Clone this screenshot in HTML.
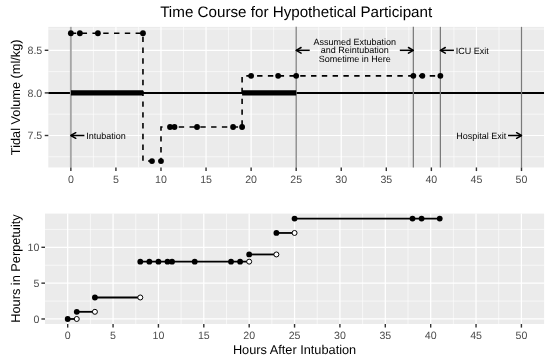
<!DOCTYPE html>
<html><head><meta charset="utf-8"><title>Time Course for Hypothetical Participant</title>
<style>html,body{margin:0;padding:0;background:#fff;width:550px;height:359px;overflow:hidden}svg{display:block}</style>
</head><body>
<svg width="550" height="359" viewBox="0 0 550 359" font-family="'Liberation Sans', Arial, Helvetica, sans-serif" text-rendering="geometricPrecision">
<rect x="0" y="0" width="550" height="359" fill="#FFFFFF"/>
<text x="296.18" y="16.6" font-size="15.2" text-anchor="middle" fill="#000">Time Course for Hypothetical Participant</text>
<rect x="48.33" y="26.87" width="495.70" height="140.58" fill="#EBEBEB"/>
<g stroke="#FFFFFF" stroke-width="0.62">
<line x1="93.39" y1="26.87" x2="93.39" y2="167.45"/>
<line x1="138.46" y1="26.87" x2="138.46" y2="167.45"/>
<line x1="183.52" y1="26.87" x2="183.52" y2="167.45"/>
<line x1="228.58" y1="26.87" x2="228.58" y2="167.45"/>
<line x1="273.65" y1="26.87" x2="273.65" y2="167.45"/>
<line x1="318.71" y1="26.87" x2="318.71" y2="167.45"/>
<line x1="363.78" y1="26.87" x2="363.78" y2="167.45"/>
<line x1="408.84" y1="26.87" x2="408.84" y2="167.45"/>
<line x1="453.90" y1="26.87" x2="453.90" y2="167.45"/>
<line x1="498.97" y1="26.87" x2="498.97" y2="167.45"/>
<line x1="48.33" y1="156.80" x2="544.03" y2="156.80"/>
<line x1="48.33" y1="114.20" x2="544.03" y2="114.20"/>
<line x1="48.33" y1="71.60" x2="544.03" y2="71.60"/>
<line x1="48.33" y1="29.00" x2="544.03" y2="29.00"/>
</g>
<g stroke="#FFFFFF" stroke-width="1.24">
<line x1="70.86" y1="26.87" x2="70.86" y2="167.45"/>
<line x1="115.93" y1="26.87" x2="115.93" y2="167.45"/>
<line x1="160.99" y1="26.87" x2="160.99" y2="167.45"/>
<line x1="206.05" y1="26.87" x2="206.05" y2="167.45"/>
<line x1="251.12" y1="26.87" x2="251.12" y2="167.45"/>
<line x1="296.18" y1="26.87" x2="296.18" y2="167.45"/>
<line x1="341.24" y1="26.87" x2="341.24" y2="167.45"/>
<line x1="386.31" y1="26.87" x2="386.31" y2="167.45"/>
<line x1="431.37" y1="26.87" x2="431.37" y2="167.45"/>
<line x1="476.43" y1="26.87" x2="476.43" y2="167.45"/>
<line x1="521.50" y1="26.87" x2="521.50" y2="167.45"/>
<line x1="48.33" y1="135.50" x2="544.03" y2="135.50"/>
<line x1="48.33" y1="92.90" x2="544.03" y2="92.90"/>
<line x1="48.33" y1="50.30" x2="544.03" y2="50.30"/>
</g>
<line x1="48.33" y1="92.90" x2="544.03" y2="92.90" stroke="#000" stroke-width="2.0"/>
<line x1="70.86" y1="26.87" x2="70.86" y2="167.45" stroke="#A6A6A6" stroke-width="1.9"/>
<line x1="296.18" y1="26.87" x2="296.18" y2="167.45" stroke="#7A7A7A" stroke-width="1.25"/>
<line x1="413.35" y1="26.87" x2="413.35" y2="167.45" stroke="#7A7A7A" stroke-width="1.25"/>
<line x1="440.38" y1="26.87" x2="440.38" y2="167.45" stroke="#7A7A7A" stroke-width="1.25"/>
<line x1="521.50" y1="26.87" x2="521.50" y2="167.45" stroke="#7A7A7A" stroke-width="1.25"/>
<line x1="70.86" y1="92.90" x2="142.96" y2="92.90" stroke="#000" stroke-width="5.3"/>
<line x1="242.10" y1="92.90" x2="296.18" y2="92.90" stroke="#000" stroke-width="5.3"/>
<path d="M70.86,33.26 L142.96,33.26 L142.96,161.06 L160.99,161.06 L160.99,126.98 L242.10,126.98 L242.10,75.86 L440.38,75.86" fill="none" stroke="#000" stroke-width="1.6" stroke-dasharray="5.4 5.39"/>
<circle cx="70.86" cy="33.26" r="2.9" fill="#000"/>
<circle cx="79.87" cy="33.26" r="2.9" fill="#000"/>
<circle cx="97.90" cy="33.26" r="2.9" fill="#000"/>
<circle cx="142.96" cy="33.26" r="2.9" fill="#000"/>
<circle cx="151.98" cy="161.06" r="2.9" fill="#000"/>
<circle cx="160.99" cy="161.06" r="2.9" fill="#000"/>
<circle cx="170.00" cy="126.98" r="2.9" fill="#000"/>
<circle cx="174.51" cy="126.98" r="2.9" fill="#000"/>
<circle cx="197.04" cy="126.98" r="2.9" fill="#000"/>
<circle cx="233.09" cy="126.98" r="2.9" fill="#000"/>
<circle cx="242.10" cy="126.98" r="2.9" fill="#000"/>
<circle cx="251.12" cy="75.86" r="2.9" fill="#000"/>
<circle cx="278.15" cy="75.86" r="2.9" fill="#000"/>
<circle cx="296.18" cy="75.86" r="2.9" fill="#000"/>
<circle cx="413.35" cy="75.86" r="2.9" fill="#000"/>
<circle cx="422.36" cy="75.86" r="2.9" fill="#000"/>
<circle cx="440.38" cy="75.86" r="2.9" fill="#000"/>
<line x1="84.38" y1="135.50" x2="70.86" y2="135.50" stroke="#000" stroke-width="1.5"/><polyline points="75.76,132.70 70.86,135.50 75.76,138.30" fill="none" stroke="#000" stroke-width="1.5" stroke-linejoin="round" stroke-linecap="round"/>
<line x1="309.70" y1="50.30" x2="296.18" y2="50.30" stroke="#000" stroke-width="1.5"/><polyline points="301.08,47.50 296.18,50.30 301.08,53.10" fill="none" stroke="#000" stroke-width="1.5" stroke-linejoin="round" stroke-linecap="round"/>
<line x1="399.83" y1="50.30" x2="413.35" y2="50.30" stroke="#000" stroke-width="1.5"/><polyline points="408.45,53.10 413.35,50.30 408.45,47.50" fill="none" stroke="#000" stroke-width="1.5" stroke-linejoin="round" stroke-linecap="round"/>
<line x1="453.90" y1="50.30" x2="440.38" y2="50.30" stroke="#000" stroke-width="1.5"/><polyline points="445.28,47.50 440.38,50.30 445.28,53.10" fill="none" stroke="#000" stroke-width="1.5" stroke-linejoin="round" stroke-linecap="round"/>
<line x1="507.98" y1="135.50" x2="521.50" y2="135.50" stroke="#000" stroke-width="1.5"/><polyline points="516.60,138.30 521.50,135.50 516.60,132.70" fill="none" stroke="#000" stroke-width="1.5" stroke-linejoin="round" stroke-linecap="round"/>
<g font-size="9.0" fill="#000">
<text x="86.18" y="138.70">Intubation</text>
<text x="455.71" y="53.50">ICU Exit</text>
<text x="506.18" y="138.70" text-anchor="end">Hospital Exit</text>
<text x="354.76" y="44.90" text-anchor="middle">Assumed Extubation</text>
<text x="354.76" y="53.25" text-anchor="middle">and Reintubation</text>
<text x="354.76" y="61.60" text-anchor="middle">Sometime in Here</text>
</g>
<g stroke="#333333" stroke-width="1.4">
<line x1="70.86" y1="167.45" x2="70.86" y2="171.05"/>
<line x1="115.93" y1="167.45" x2="115.93" y2="171.05"/>
<line x1="160.99" y1="167.45" x2="160.99" y2="171.05"/>
<line x1="206.05" y1="167.45" x2="206.05" y2="171.05"/>
<line x1="251.12" y1="167.45" x2="251.12" y2="171.05"/>
<line x1="296.18" y1="167.45" x2="296.18" y2="171.05"/>
<line x1="341.24" y1="167.45" x2="341.24" y2="171.05"/>
<line x1="386.31" y1="167.45" x2="386.31" y2="171.05"/>
<line x1="431.37" y1="167.45" x2="431.37" y2="171.05"/>
<line x1="476.43" y1="167.45" x2="476.43" y2="171.05"/>
<line x1="521.50" y1="167.45" x2="521.50" y2="171.05"/>
<line x1="44.73" y1="135.50" x2="48.33" y2="135.50"/>
<line x1="44.73" y1="92.90" x2="48.33" y2="92.90"/>
<line x1="44.73" y1="50.30" x2="48.33" y2="50.30"/>
</g>
<g font-size="10.6" fill="#4D4D4D">
<text x="70.86" y="182.65" text-anchor="middle">0</text>
<text x="115.93" y="182.65" text-anchor="middle">5</text>
<text x="160.99" y="182.65" text-anchor="middle">10</text>
<text x="206.05" y="182.65" text-anchor="middle">15</text>
<text x="251.12" y="182.65" text-anchor="middle">20</text>
<text x="296.18" y="182.65" text-anchor="middle">25</text>
<text x="341.24" y="182.65" text-anchor="middle">30</text>
<text x="386.31" y="182.65" text-anchor="middle">35</text>
<text x="431.37" y="182.65" text-anchor="middle">40</text>
<text x="476.43" y="182.65" text-anchor="middle">45</text>
<text x="521.50" y="182.65" text-anchor="middle">50</text>
<text x="42.23" y="139.30" text-anchor="end">7.5</text>
<text x="42.23" y="96.70" text-anchor="end">8.0</text>
<text x="42.23" y="54.10" text-anchor="end">8.5</text>
</g>
<text transform="translate(19.9,97.30) rotate(-90)" font-size="12.76" text-anchor="middle" fill="#000">Tidal Volume (ml/kg)</text>
<rect x="45.00" y="213.60" width="499.10" height="110.40" fill="#EBEBEB"/>
<g stroke="#FFFFFF" stroke-width="0.62">
<line x1="90.37" y1="213.60" x2="90.37" y2="324.00"/>
<line x1="135.75" y1="213.60" x2="135.75" y2="324.00"/>
<line x1="181.12" y1="213.60" x2="181.12" y2="324.00"/>
<line x1="226.49" y1="213.60" x2="226.49" y2="324.00"/>
<line x1="271.86" y1="213.60" x2="271.86" y2="324.00"/>
<line x1="317.24" y1="213.60" x2="317.24" y2="324.00"/>
<line x1="362.61" y1="213.60" x2="362.61" y2="324.00"/>
<line x1="407.98" y1="213.60" x2="407.98" y2="324.00"/>
<line x1="453.35" y1="213.60" x2="453.35" y2="324.00"/>
<line x1="498.73" y1="213.60" x2="498.73" y2="324.00"/>
<line x1="45.00" y1="301.06" x2="544.10" y2="301.06"/>
<line x1="45.00" y1="265.22" x2="544.10" y2="265.22"/>
<line x1="45.00" y1="229.37" x2="544.10" y2="229.37"/>
</g>
<g stroke="#FFFFFF" stroke-width="1.24">
<line x1="67.69" y1="213.60" x2="67.69" y2="324.00"/>
<line x1="113.06" y1="213.60" x2="113.06" y2="324.00"/>
<line x1="158.43" y1="213.60" x2="158.43" y2="324.00"/>
<line x1="203.80" y1="213.60" x2="203.80" y2="324.00"/>
<line x1="249.18" y1="213.60" x2="249.18" y2="324.00"/>
<line x1="294.55" y1="213.60" x2="294.55" y2="324.00"/>
<line x1="339.92" y1="213.60" x2="339.92" y2="324.00"/>
<line x1="385.30" y1="213.60" x2="385.30" y2="324.00"/>
<line x1="430.67" y1="213.60" x2="430.67" y2="324.00"/>
<line x1="476.04" y1="213.60" x2="476.04" y2="324.00"/>
<line x1="521.41" y1="213.60" x2="521.41" y2="324.00"/>
<line x1="45.00" y1="318.98" x2="544.10" y2="318.98"/>
<line x1="45.00" y1="283.14" x2="544.10" y2="283.14"/>
<line x1="45.00" y1="247.29" x2="544.10" y2="247.29"/>
</g>
<g stroke="#000" stroke-width="1.8">
<line x1="67.69" y1="318.98" x2="76.76" y2="318.98"/>
<line x1="76.76" y1="311.81" x2="94.91" y2="311.81"/>
<line x1="94.91" y1="297.48" x2="140.28" y2="297.48"/>
<line x1="140.28" y1="261.63" x2="249.18" y2="261.63"/>
<line x1="249.18" y1="254.46" x2="276.40" y2="254.46"/>
<line x1="276.40" y1="232.96" x2="294.55" y2="232.96"/>
<line x1="294.55" y1="218.62" x2="439.74" y2="218.62"/>
</g>
<circle cx="67.69" cy="318.98" r="2.9" fill="#000"/>
<circle cx="76.76" cy="311.81" r="2.9" fill="#000"/>
<circle cx="94.91" cy="297.48" r="2.9" fill="#000"/>
<circle cx="140.28" cy="261.63" r="2.9" fill="#000"/>
<circle cx="149.36" cy="261.63" r="2.9" fill="#000"/>
<circle cx="158.43" cy="261.63" r="2.9" fill="#000"/>
<circle cx="167.51" cy="261.63" r="2.9" fill="#000"/>
<circle cx="172.04" cy="261.63" r="2.9" fill="#000"/>
<circle cx="194.73" cy="261.63" r="2.9" fill="#000"/>
<circle cx="231.03" cy="261.63" r="2.9" fill="#000"/>
<circle cx="240.10" cy="261.63" r="2.9" fill="#000"/>
<circle cx="249.18" cy="254.46" r="2.9" fill="#000"/>
<circle cx="276.40" cy="232.96" r="2.9" fill="#000"/>
<circle cx="294.55" cy="218.62" r="2.9" fill="#000"/>
<circle cx="412.52" cy="218.62" r="2.9" fill="#000"/>
<circle cx="421.59" cy="218.62" r="2.9" fill="#000"/>
<circle cx="439.74" cy="218.62" r="2.9" fill="#000"/>
<circle cx="76.76" cy="318.98" r="2.5" fill="#FFF" stroke="#000" stroke-width="1.0"/>
<circle cx="94.91" cy="311.81" r="2.5" fill="#FFF" stroke="#000" stroke-width="1.0"/>
<circle cx="140.28" cy="297.48" r="2.5" fill="#FFF" stroke="#000" stroke-width="1.0"/>
<circle cx="249.18" cy="261.63" r="2.5" fill="#FFF" stroke="#000" stroke-width="1.0"/>
<circle cx="276.40" cy="254.46" r="2.5" fill="#FFF" stroke="#000" stroke-width="1.0"/>
<circle cx="294.55" cy="232.96" r="2.5" fill="#FFF" stroke="#000" stroke-width="1.0"/>
<g stroke="#333333" stroke-width="1.4">
<line x1="67.69" y1="324.00" x2="67.69" y2="327.60"/>
<line x1="113.06" y1="324.00" x2="113.06" y2="327.60"/>
<line x1="158.43" y1="324.00" x2="158.43" y2="327.60"/>
<line x1="203.80" y1="324.00" x2="203.80" y2="327.60"/>
<line x1="249.18" y1="324.00" x2="249.18" y2="327.60"/>
<line x1="294.55" y1="324.00" x2="294.55" y2="327.60"/>
<line x1="339.92" y1="324.00" x2="339.92" y2="327.60"/>
<line x1="385.30" y1="324.00" x2="385.30" y2="327.60"/>
<line x1="430.67" y1="324.00" x2="430.67" y2="327.60"/>
<line x1="476.04" y1="324.00" x2="476.04" y2="327.60"/>
<line x1="521.41" y1="324.00" x2="521.41" y2="327.60"/>
<line x1="41.40" y1="318.98" x2="45.00" y2="318.98"/>
<line x1="41.40" y1="283.14" x2="45.00" y2="283.14"/>
<line x1="41.40" y1="247.29" x2="45.00" y2="247.29"/>
</g>
<g font-size="10.6" fill="#4D4D4D">
<text x="67.69" y="338.90" text-anchor="middle">0</text>
<text x="113.06" y="338.90" text-anchor="middle">5</text>
<text x="158.43" y="338.90" text-anchor="middle">10</text>
<text x="203.80" y="338.90" text-anchor="middle">15</text>
<text x="249.18" y="338.90" text-anchor="middle">20</text>
<text x="294.55" y="338.90" text-anchor="middle">25</text>
<text x="339.92" y="338.90" text-anchor="middle">30</text>
<text x="385.30" y="338.90" text-anchor="middle">35</text>
<text x="430.67" y="338.90" text-anchor="middle">40</text>
<text x="476.04" y="338.90" text-anchor="middle">45</text>
<text x="521.41" y="338.90" text-anchor="middle">50</text>
<text x="39.40" y="322.78" text-anchor="end">0</text>
<text x="39.40" y="286.94" text-anchor="end">5</text>
<text x="39.40" y="251.09" text-anchor="end">10</text>
</g>
<text transform="translate(20.1,268.50) rotate(-90)" font-size="12.76" text-anchor="middle" fill="#000">Hours in Perpetuity</text>
<text x="294.55" y="353.6" font-size="12.76" text-anchor="middle" fill="#000">Hours After Intubation</text>
</svg>
</body></html>
